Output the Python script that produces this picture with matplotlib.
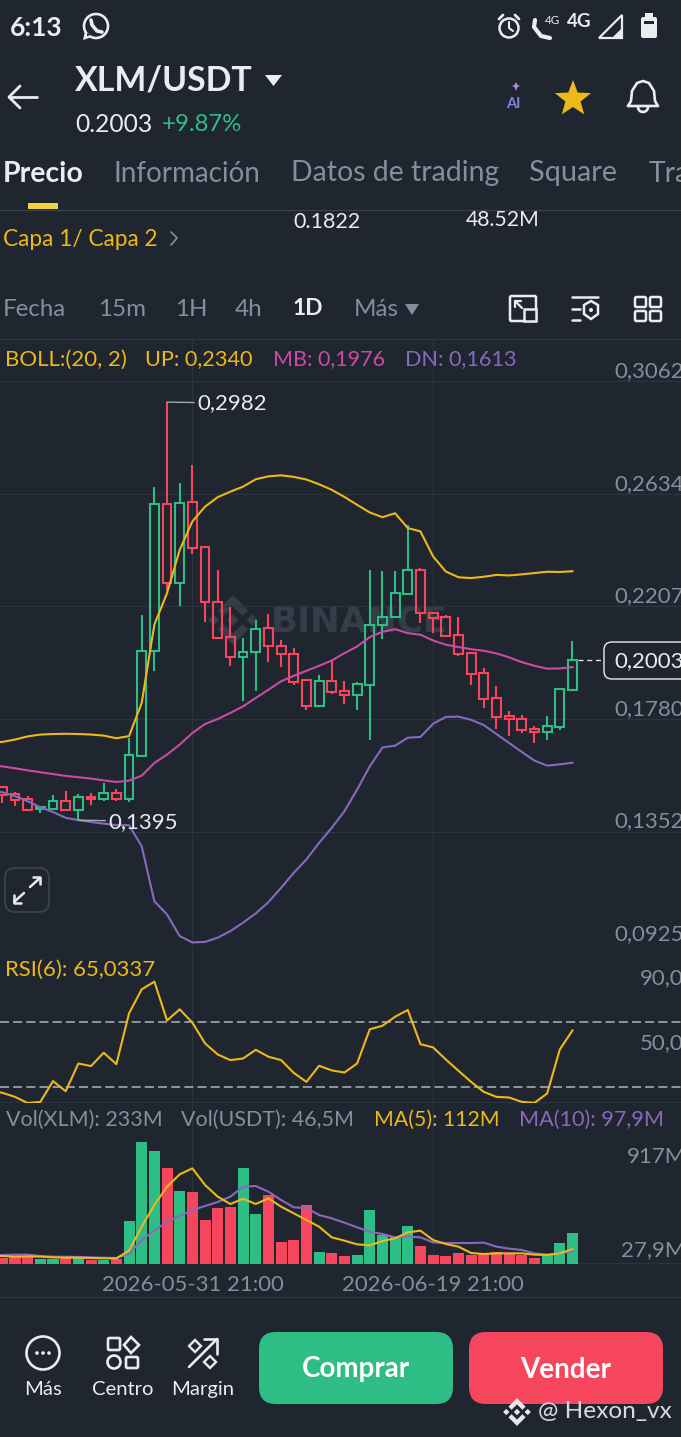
import numpy as np
import matplotlib
matplotlib.use('Agg')
import matplotlib.pyplot as plt
from matplotlib.patches import Circle, FancyBboxPatch, Polygon, Rectangle, Arc
from matplotlib.transforms import ScaledTranslation

W, H = 681, 1437
BG = '#1f2630'
GRID = '#2c3440'
GREEN = '#2ebd85'
RED = '#f6465d'
YELLOW = '#ecb81a'
PINK = '#cb4aa6'
PURPLE = '#8b68bd'
GREY = '#848e9c'
WHITE = '#eaecef'

plt.rcParams['font.family'] = ['Lato', 'DejaVu Sans']

# candles
opens = [.1521, .1496, .1476, .1438, .1438, .1467, .1435, .1482, .1476, .1498,
         .1476, .1640, .2036, .2596, .2295, .2601, .2431, .2225, .2089, .2014,
         .2032, .2123, .2058, .2027, .1926, .1827, .1922, .1884, .1869, .1909,
         .2134, .2166, .2254, .2345, .2181, .2165, .2099, .2029, .1953, .1857,
         .1790, .1780, .1741, .1730, .1747, .1890]
closes = [.1492, .1470, .1435, .1445, .1467, .1435, .1482, .1476, .1498, .1477,
          .1644, .2039, .2596, .2295, .2598, .2427, .2225, .2086, .2014, .2033,
          .2122, .2058, .2025, .1920, .1827, .1922, .1880, .1869, .1912, .2137,
          .2168, .2256, .2345, .2181, .2161, .2095, .2027, .1951, .1855, .1788,
          .1779, .1738, .1730, .1751, .1894, .2003]
highs = [.1526, .1501, .1486, .1450, .1490, .1505, .1496, .1498, .1536, .1513,
         .1707, .2175, .2659, .2982, .2674, .2743, .2434, .2345, .2206, .2086,
         .2156, .2178, .2080, .2048, .1928, .1947, .1998, .1922, .1918, .2343,
         .2340, .2340, .2516, .2352, .2187, .2175, .2168, .2032, .1971, .1903,
         .1809, .1794, .1751, .1789, .1894, .2077]
lows = [.1460, .1450, .1429, .1423, .1433, .1433, .1395, .1454, .1467, .1467,
        .1463, .1640, .1960, .2269, .2209, .2405, .2146, .2086, .1979, .1846,
        .1886, .1995, .1975, .1909, .1812, .1824, .1875, .1836, .1812, .1701,
        .2082, .2166, .2254, .2145, .2105, .2092, .2017, .1908, .1819, .1741,
        .1713, .1726, .1688, .1701, .1736, .1890]

# indicator lines start one day earlier, off the left edge
boll_up = [.1690, .1692, .1701, .1713, .1720, .1722, .1723, .1722, .1720, .1716, .1706,
           .1714, .1840, .2137, .2257, .2421, .2529, .2585, .2621, .2642, .2661,
           .2689, .2700, .2704, .2698, .2688, .2670, .2649, .2622, .2592, .2563,
           .2545, .2560, .2504, .2491, .2396, .2339, .2317, .2314, .2319, .2326,
           .2324, .2328, .2333, .2338, .2337, .2340]
boll_mb = [.1606, .1599, .1592, .1584, .1577, .1570, .1563, .1558, .1553, .1546, .1540,
           .1545, .1564, .1612, .1644, .1682, .1726, .1760, .1779, .1802, .1827,
           .1859, .1890, .1922, .1943, .1962, .1981, .2001, .2029, .2054, .2090,
           .2110, .2120, .2105, .2099, .2077, .2061, .2052, .2044, .2038, .2028,
           .2013, .1995, .1981, .1970, .1971, .1976]
boll_dn = [.1505, .1501, .1486, .1467, .1444, .1426, .1404, .1395, .1388, .1382, .1376,
           .1376, .1296, .1087, .1037, .0955, .0931, .0933, .0949, .0974, .1006,
           .1041, .1084, .1138, .1195, .1246, .1309, .1366, .1429, .1511, .1599,
           .1671, .1678, .1708, .1711, .1761, .1787, .1788, .1776, .1756, .1722,
           .1688, .1654, .1621, .1602, .1607, .1613]
rsi = [28.0, 26.3, 23.8, 20.0, 20.7, 33.6, 27.3, 44.5, 42.9, 51.2, 44.1,
       75.6, 90.5, 95.3, 71.2, 78.1, 69.8, 57.0, 50.1, 46.6, 47.6,
       53.0, 48.7, 46.6, 38.7, 33.1, 43.1, 40.2, 38.9, 44.5, 65.7,
       67.9, 73.5, 77.7, 56.5, 54.5, 47.0, 40.0, 33.1, 26.9, 23.8,
       23.4, 20.7, 20.1, 25.9, 53.2, 65.03]
volume = [47.6, 55.1, 55.1, 40.1, 40.1, 47.6, 42.6, 32.6, 32.6, 37.6,
          320.6, 917, 849.2, 721.4, 546.1, 543.6, 330.7, 418.3, 428.4, 721.4,
          373.2, 521.0, 165.3, 182.9, 443.4, 90.2, 85.2, 62.6, 67.6, 403.3,
          217.9, 200.4, 285.6, 135.3, 70.1, 57.6, 85.2, 70.1, 80.2, 92.7,
          80.2, 70.1, 45.1, 67.6, 160.3, 233]
vol_ma5 = [60.1, 60.1, 55.1, 57.6, 55.1, 50.1, 47.6, 47.6, 45.1, 42.6, 42.6,
           100.2, 280.6, 443.4, 581.2, 673.8, 718.9, 593.7, 506.0, 450.9, 491.0,
           450.9, 493.5, 430.9, 380.8, 330.7, 280.6, 200.4, 175.4, 147.8, 140.3,
           172.8, 192.9, 238.0, 250.5, 180.4, 150.3, 130.3, 82.7, 75.2, 80.2,
           80.2, 80.2, 70.1, 67.6, 80.2, 112]
vol_ma10 = [67.6, 67.6, 70.1, 70.1, 60.1, 55.1, 55.1, 52.6, 50.1, 47.6, 45.1,
            75.2, 180.4, 250.5, 318.1, 360.7, 405.8, 435.9, 465.9, 506.0, 581.2,
            586.2, 543.6, 481.0, 425.9, 420.8, 368.2, 343.2, 310.6, 275.6, 243.0,
            225.5, 200.4, 205.4, 200.4, 162.8, 157.8, 157.8, 157.8, 160.3, 130.3,
            115.2, 105.2, 80.2, 70.1, 80.2, 97.9]

price_ticks = [.3062, .2634, .2207, .1780, .1352, .0925]
price_labels = ['0,3062', '0,2634', '0,2207', '0,1780', '0,1352', '0,0925']
rsi_ticks = [90, 50]
rsi_labels = ['90,00', '50,00']
vol_ticks = [27.9, 917]
vol_labels = ['27,9M', '917M']
date_ticks = [15, 34]
date_labels = ['2026-05-31 21:00', '2026-06-19 21:00']

days = np.arange(len(opens))
line_days = np.arange(-1, len(opens))
opens, closes, highs, lows = map(np.array, (opens, closes, highs, lows))
colors = [GREEN if c >= o else RED for o, c in zip(opens, closes)]
XLIM = (-2.33 / 12.67, (W - 2.33) / 12.67)
PT = 72 / 100  # points per pixel


def band(top, bottom):
    a = fig.add_axes([0, 1 - bottom / H, 1, (bottom - top) / H], zorder=2)
    a.patch.set_alpha(0)
    for s in a.spines.values():
        s.set_visible(False)
    a.set_xlim(*XLIM)
    a.set_xticks(date_ticks)
    a.set_xticklabels([])
    a.tick_params(length=0)
    a.grid(True, axis='x', color=GRID, lw=0.9)
    a.set_axisbelow(True)
    a.yaxis.tick_right()
    return a


def nudge(label, dy):
    # move a tick label up or down by dy pixels
    label.set_transform(label.get_transform() + ScaledTranslation(0, dy / 100, fig.dpi_scale_trans))


def logo(a, cx, cy, r, color):
    # four chevrons and a middle diamond, scaled from a 126 unit box
    s = r / 63.0
    top = [(38.7, 53.1), (63, 28.8), (87.3, 53.2), (101.5, 39), (63, .5), (24.5, 38.9)]
    pts = [top, [(x, 126 - y) for x, y in top]]
    for dx in (14.7, 63, 111.3):
        pts.append([(dx - 14.2, 63), (dx, 48.8), (dx + 14.2, 63), (dx, 77.2)])
    for p in pts:
        a.add_patch(Polygon([(cx + (x - 63) * s, cy + (y - 63) * s) for x, y in p],
                            closed=True, fc=color, ec='none'))


def txt(x, y, s, color=WHITE, size=15, weight='normal', ha='left', **kw):
    return ui.text(x, y + 1.5, s, color=color, fontsize=size, fontweight=weight,
                   ha=ha, va='center', **kw)


def caption(x, y, s, color, size):
    # drawn above the chart bands so the vertical grid stays behind the words
    fig.text(x / W, 1 - (y + 1.5) / H, s, color=color, fontsize=size, ha='left', va='center', zorder=3)


def stroke(pts, color=WHITE, lw=1.5):
    xs, ys = zip(*pts)
    ui.plot(xs, ys, color=color, lw=lw, solid_capstyle='round', solid_joinstyle='round')


def rbox(x0, y0, x1, y1, r, fc='none', ec='none', lw=1.0):
    ui.add_patch(FancyBboxPatch((x0 + r, y0 + r), x1 - x0 - 2 * r, y1 - y0 - 2 * r,
                                boxstyle='round,pad=%f,rounding_size=%f' % (r, r),
                                fc=fc, ec=ec, lw=lw))


fig = plt.figure(figsize=(W / 100, H / 100), dpi=100, facecolor=BG)

# screen furniture, sits behind the chart bands
ui = fig.add_axes([0, 0, 1, 1], zorder=1)
ui.set_xlim(0, W)
ui.set_ylim(H, 0)
ui.axis('off')

# status bar
txt(10, 26, '6:13', size=19, weight='bold')
ui.add_patch(Circle((96, 26), 12, fc='none', ec=WHITE, lw=1.9))
ui.add_patch(Polygon([(85, 31), (83, 40), (92, 37)], fc=WHITE, ec='none'))
ui.add_patch(Polygon([(87, 33), (87, 36), (91, 35)], fc=BG, ec='none'))
stroke([(91, 20), (92, 25), (97, 31), (102, 32)], lw=2.6)
ui.add_patch(Circle((509, 28), 9.5, fc='none', ec=WHITE, lw=1.8))
stroke([(509, 22), (509, 28), (513, 31)], lw=1.5)
stroke([(499, 19), (503, 15)], lw=2)
stroke([(515, 15), (519, 19)], lw=2)
stroke([(535, 20), (534, 27), (541, 36), (550, 38)], lw=3)
txt(545, 19, '4G', size=8.5)
txt(567, 20, '4G', size=13.5, weight='bold')
ui.add_patch(Polygon([(599, 38), (622, 38), (622, 15)], fc='none', ec=WHITE, lw=1.6))
ui.add_patch(Polygon([(612, 38), (622, 38), (622, 28)], fc=WHITE, ec='none'))
rbox(641, 17, 657, 38, 2, fc=WHITE)
ui.add_patch(Rectangle((645, 13), 8, 4, fc=WHITE, ec='none'))
ui.add_patch(Rectangle((644, 21), 10, 3, fc=BG, ec='none'))

# header row
stroke([(37, 97), (9, 97)], lw=2)
stroke([(20, 86), (9, 97), (20, 108)], lw=2)
txt(75, 79, 'XLM/USDT', size=24.4, weight='bold')
ui.add_patch(Polygon([(265, 75), (282, 75), (273.5, 86)], fc=WHITE, ec='none'))
txt(75, 123, '0.2003', size=17.7)
txt(162, 123, '+9.87%', color=GREEN, size=17.2)
txt(513, 103, 'AI', color='#7c83e8', size=10.5, weight='bold', ha='center')
ui.add_patch(Polygon([(516, 82), (517.5, 85), (520, 86), (517.5, 87), (516, 91),
                      (514.5, 87), (512, 86), (514.5, 85)], fc='#b98ae0', ec='none'))
star = [(573 + r * np.sin(i * np.pi / 5), 99 - r * np.cos(i * np.pi / 5))
        for i, r in enumerate([19, 8, 19, 8, 19, 8, 19, 8, 19, 8])]
ui.add_patch(Polygon(star, fc=YELLOW, ec='none'))
stroke([(628, 106), (631, 101), (632, 91), (637, 83), (643, 81), (649, 83),
        (654, 91), (655, 101), (658, 106), (628, 106)], lw=1.9)
ui.add_patch(Arc((643, 107), 10, 10, theta1=0, theta2=180, ec=WHITE, lw=1.9))

# tabs
txt(3, 172, 'Precio', size=20.5, weight='bold')
for x, s, size in [(113, 'Información', 20), (291, 'Datos de trading', 20.4),
                   (529, 'Square', 20.8), (649, 'Tra', 20.4)]:
    txt(x, 172, s, color=GREY, size=size)
ui.add_patch(Rectangle((28, 203), 30, 6, fc='#f3d13f', ec='none'))
ui.plot([0, W], [209.5, 209.5], color='#39414d', lw=0.9)
txt(3, 238, 'Capa 1/ Capa 2', color=YELLOW, size=16.3)
stroke([(171, 232), (177, 238), (171, 245)], color=GREY, lw=1.2)
txt(293, 220, '0.1822', size=15.5)
txt(466, 218, '48.52M', size=15.3)

# interval row
for x, s in [(3, 'Fecha'), (98, '15m'), (175, '1H'), (235, '4h'), (354, 'Más')]:
    txt(x, 308, s, color=GREY, size=17.4)
txt(293, 307, '1D', size=16.5, weight='bold')
ui.add_patch(Polygon([(405, 304), (419, 304), (412, 315)], fc=GREY, ec='none'))
rbox(510, 296, 536, 321, 1.5, ec=WHITE, lw=1.8)
ui.add_patch(Rectangle((524, 309), 12, 12, fc=BG, ec=WHITE, lw=1.8))
stroke([(515, 301), (522, 308)], lw=1.6)
stroke([(515, 307), (515, 301), (521, 301)], lw=1.6)
stroke([(572, 297), (598, 297)], lw=1.8)
stroke([(572, 309), (580, 309)], lw=1.8)
stroke([(572, 320), (580, 320)], lw=1.8)
ui.add_patch(Polygon([(591, 301), (598, 305), (598, 314), (591, 319), (584, 314), (584, 305)],
                     fc='none', ec=WHITE, lw=1.8))
ui.add_patch(Circle((591, 310), 2, fc=WHITE, ec='none'))
for x0 in (635, 650):
    for y0 in (297, 311):
        rbox(x0, y0, x0 + 11, y0 + 10, 1.5, ec=WHITE, lw=1.8)

# line under the interval row
ui.plot([0, W], [338.5, 338.5], color=GRID, lw=1)

# indicator captions
caption(5, 358, 'BOLL:(20, 2)', YELLOW, 16)
caption(145, 358, 'UP: 0,2340', YELLOW, 15.6)
caption(273, 358, 'MB: 0,1976', PINK, 15.5)
caption(405, 358, 'DN: 0,1613', PURPLE, 15.6)
caption(5, 968, 'RSI(6): 65,0337', YELLOW, 15.9)
caption(6, 1118, 'Vol(XLM): 233M', GREY, 15.5)
caption(181, 1118, 'Vol(USDT): 46,5M', GREY, 15.5)
caption(374, 1118, 'MA(5): 112M', YELLOW, 15.3)
caption(519, 1118, 'MA(10): 97,9M', PURPLE, 15.6)

# watermark
logo(ui, 233, 620, 25, '#353d49')
ui.text(271, 621, 'BINANCE', color='#353d49', fontsize=25.5, fontweight='bold',
        family=['DejaVu Sans'], va='center')

# expand button
rbox(5, 868, 49, 912, 10, ec='#3b4350', lw=1.3)
stroke([(30, 887), (40, 878)], lw=1.8)
stroke([(33, 877), (40, 877), (40, 884)], lw=1.8)
stroke([(24, 893), (14, 902)], lw=1.8)
stroke([(14, 895), (14, 903), (21, 903)], lw=1.8)

# bottom bar
ui.plot([0, W], [1297, 1297], color=GRID, lw=1)
ui.add_patch(Circle((43, 1353), 16.5, fc='none', ec=WHITE, lw=1.9))
for dx in (-6, 0, 6):
    ui.add_patch(Circle((43 + dx, 1353), 1.8, fc=WHITE, ec='none'))
rbox(108, 1338, 120, 1350, 1.5, ec=WHITE, lw=1.9)
ui.add_patch(Polygon([(131, 1337), (139, 1345), (131, 1353), (124, 1345)], fc='none', ec=WHITE, lw=1.9))
ui.add_patch(Circle((114, 1362), 6.5, fc='none', ec=WHITE, lw=1.9))
rbox(126, 1357, 138, 1368, 1.5, ec=WHITE, lw=1.9)
stroke([(189, 1367), (217, 1339)], lw=1.9)
stroke([(204, 1339), (217, 1339), (217, 1354)], lw=1.9)
ui.add_patch(Polygon([(195, 1340), (201, 1346), (195, 1352), (189, 1346)], fc='none', ec=WHITE, lw=1.7))
ui.add_patch(Polygon([(210, 1356), (216, 1362), (210, 1368), (204, 1362)], fc='none', ec=WHITE, lw=1.7))
for x, s in [(43, 'Más'), (123, 'Centro'), (203, 'Margin')]:
    txt(x, 1388, s, size=14.6, ha='center')
rbox(259, 1332, 453, 1404, 17, fc=GREEN)
rbox(469, 1332, 663, 1404, 17, fc=RED)
txt(356, 1368, 'Comprar', size=20, weight='bold', ha='center', color='#ffffff')
txt(566, 1368, 'Vender', size=20, weight='bold', ha='center', color='#ffffff')
logo(ui, 517, 1412, 14, '#e6e7ea')
txt(538, 1410, '@ Hexon_vx', color='#d8dadd', size=17.6)

# price panel
PX = 563 / (price_ticks[0] - price_ticks[-1])
ax = band(340, 944)
ax.set_ylim(price_ticks[-1], price_ticks[0] + 41 / PX)
ax.set_yticks(price_ticks)
ax.set_yticklabels(price_labels, color=GREY, fontsize=16, ha='left', va='bottom')
ax.tick_params(axis='y', pad=-67 * PT, length=0)
ax.grid(True, axis='y', color=GRID, lw=0.9)

body_hi = np.maximum(opens, closes)
body_lo = np.minimum(opens, closes)
ax.vlines(days, body_hi, highs, colors=colors, lw=1.5, zorder=3)
ax.vlines(days, lows, body_lo, colors=colors, lw=1.5, zorder=3)
ax.bar(days, body_hi - body_lo, bottom=body_lo, width=0.7, fill=False,
       edgecolor=colors, linewidth=1.5, zorder=3)
ax.plot(line_days, boll_up, color=YELLOW, lw=1.5, zorder=4)
ax.plot(line_days, boll_mb, color=PINK, lw=1.5, zorder=4)
ax.plot(line_days, boll_dn, color=PURPLE, lw=1.5, zorder=4)

# high / low callouts
hi_i, lo_i = int(np.argmax(highs)), int(np.argmin(lows))
for i, val, s in [(hi_i, highs[hi_i], '0,2982'), (lo_i, lows[lo_i], '0,1395')]:
    ax.annotate(s, xy=(i, val), xytext=(30, -1.5), textcoords='offset pixels',
                color=WHITE, fontsize=16, va='center', ha='left', zorder=5,
                arrowprops=dict(arrowstyle='-', color='#a6acb4', lw=1, shrinkA=0, shrinkB=0,
                                relpos=(0, 0.55)))

# last price tag
ax.plot([days[-1] + 0.4, 47.5], [closes[-1], closes[-1]], color=WHITE, lw=0.9,
        dashes=(4, 3), zorder=4)
rbox(604, 642, 700, 679, 8, fc=BG, ec=WHITE, lw=1)
txt(614, 659.5, '0,2003', size=16)

# rsi panel
rx = band(945, 1103)
rx.set_ylim(20.0, 118)
rx.set_yticks(rsi_ticks)
rx.set_yticklabels(rsi_labels, color=GREY, fontsize=16, ha='left', va='bottom')
rx.tick_params(axis='y', pad=-41 * PT, length=0)
for lab in rx.get_yticklabels():
    nudge(lab, 2)
rx.axhline(70, color='#a4a9b0', lw=1.2, dashes=(5.4, 2.5))
rx.axhline(30, color='#a4a9b0', lw=1.2, dashes=(5.4, 2.5))
rx.axhline(20.0, color=GRID, lw=1.6)
rx.plot(line_days, rsi, color=YELLOW, lw=1.5, zorder=4)

# volume panel
vx = band(1103, 1264)
vx.set_ylim(0, 161 * 7.516)
vx.bar(days, volume, width=0.87, color=colors, zorder=3)
vx.plot(line_days, vol_ma10, color=PURPLE, lw=1.5, zorder=4)
vx.plot(line_days, vol_ma5, color=YELLOW, lw=1.5, zorder=5)
vx.axhline(0, color=GRID, lw=1.6)
vx.set_yticks(vol_ticks)
vx.set_yticklabels(vol_labels, color=GREY, fontsize=16, ha='right')
vx.tick_params(axis='y', pad=3.6, length=0)
vx.get_yticklabels()[0].set_va('bottom')
vx.get_yticklabels()[1].set_va('top')
nudge(vx.get_yticklabels()[1], -5)
vx.set_xticklabels(date_labels, color=GREY, fontsize=15.9)
vx.tick_params(axis='x', pad=8)

fig.savefig('out.png', dpi=100, facecolor=BG)
